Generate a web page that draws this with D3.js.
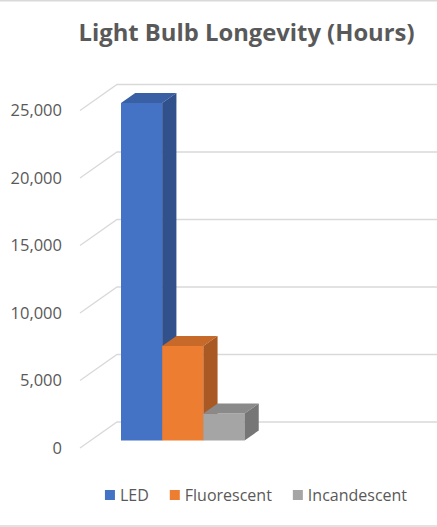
<!DOCTYPE html>
<html>
<head>
<meta charset="utf-8">
<script src="https://cdn.jsdelivr.net/npm/d3@7/dist/d3.min.js"></script>
<style>
  html, body { margin: 0; padding: 0; background: #fff; }
  svg { display: block; }
</style>
</head>
<body>
<script>
// ---- Data ----
const title = "Light Bulb Longevity (Hours)";
const seriesNames = ["LED", "Fluorescent", "Incandescent"];
const seriesValues = [25000, 7000, 2000];
const seriesColors = ["#4472C4", "#ED7D31", "#A5A5A5"];
const yTicks = [0, 5000, 10000, 15000, 20000, 25000];

// ---- Layout ----
const W = 437, H = 527;
const font = "'Open Sans', Lato, sans-serif";
const textColor = "#595959";
const gridColor = "#d9d9d9";

const wallX = 80;
const depthDX = 37, depthDY = -26;
const y = d3.scaleLinear().domain([0, 25000]).range([448, 110.5]);

const barD0 = 0.29, barD1 = 0.675;
const x = d3.scaleBand().domain(seriesNames).range([121, 244.5]).padding(0);

const svg = d3.select("body").append("svg")
  .attr("width", W).attr("height", H);

svg.append("rect").attr("width", W).attr("height", H).attr("fill", "#fff");

svg.append("line").attr("x1", 0).attr("x2", W).attr("y1", 0.75).attr("y2", 0.75)
  .attr("stroke", gridColor).attr("stroke-width", 1.5);
svg.append("line").attr("x1", 0).attr("x2", W).attr("y1", 526).attr("y2", 526)
  .attr("stroke", gridColor).attr("stroke-width", 1.5);

// title
svg.append("text")
  .attr("x", 246.5).attr("y", 40.5)
  .attr("text-anchor", "middle")
  .attr("font-family", font).attr("font-weight", "bold")
  .attr("font-size", 23.8)
  .attr("fill", textColor)
  .text(title);

// gridlines
const grid = svg.append("g");
yTicks.forEach(t => {
  const y0 = y(t);
  grid.append("path")
    .attr("d", d3.line()([
      [wallX, y0],
      [wallX + depthDX, y0 + depthDY],
      [W, y0 + depthDY]
    ]))
    .attr("fill", "none")
    .attr("stroke", gridColor)
    .attr("stroke-width", 1.3);
});

// y axis labels
const fmt = d3.format(",");
svg.append("g").selectAll("text").data(yTicks).join("text")
  .attr("x", 62).attr("y", d => y(d))
  .attr("dy", "0.36em")
  .attr("text-anchor", "end")
  .attr("font-family", font).attr("font-size", 16.5)
  .attr("fill", textColor)
  .text(d => fmt(d));

// bars (3D boxes)
const bars = svg.append("g");
seriesNames.forEach((name, i) => {
  const v = seriesValues[i];
  const c = d3.color(seriesColors[i]);
  const fx0 = x(name), fx1 = x(name) + x.bandwidth();
  const fdy = depthDY * barD0;
  const bdx = depthDX * (barD1 - barD0), bdy = depthDY * (barD1 - barD0);
  const yb = y(0) + fdy, yt = y(v) + fdy;
  const g = bars.append("g");
  g.append("path").attr("d", d3.line()([[fx0, yb], [fx1, yb], [fx1, yt], [fx0, yt]]) + "Z")
    .attr("fill", c.formatHex());
  g.append("path").attr("d", d3.line()([[fx0, yt], [fx1, yt], [fx1 + bdx, yt + bdy], [fx0 + bdx, yt + bdy]]) + "Z")
    .attr("fill", c.darker(0.5).formatHex());
  g.append("path").attr("d", d3.line()([[fx1, yb], [fx1 + bdx, yb + bdy], [fx1 + bdx, yt + bdy], [fx1, yt]]) + "Z")
    .attr("fill", c.darker(0.95).formatHex());
});

// legend
const legend = svg.append("g");
const items = [];
seriesNames.forEach((name, i) => {
  const it = legend.append("g");
  it.append("rect").attr("x", 0).attr("y", -11).attr("width", 10).attr("height", 10)
    .attr("fill", seriesColors[i]);
  const t = it.append("text").attr("x", 15).attr("y", 0)
    .attr("font-family", font).attr("font-size", 16)
    .attr("fill", textColor).text(name);
  const w = 15 + t.node().getComputedTextLength();
  items.push({ it, w });
});
const gap = 21;
const total = d3.sum(items, d => d.w) + gap * (items.length - 1);
let lx = 256 - total / 2;
items.forEach(d => {
  d.it.attr("transform", `translate(${lx},501)`);
  lx += d.w + gap;
});
</script>
</body>
</html>
